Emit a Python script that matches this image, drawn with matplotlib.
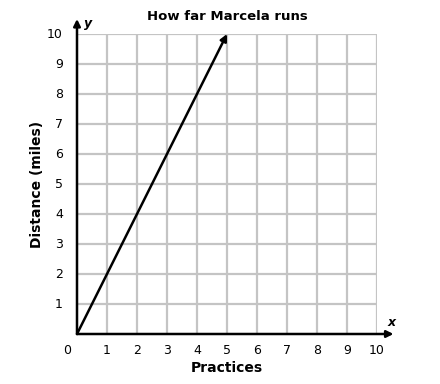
import matplotlib.pyplot as plt

# data
practices = [0, 5]
distance = [0, 10]
x_ticks = [1, 2, 3, 4, 5, 6, 7, 8, 9, 10]
y_ticks = [1, 2, 3, 4, 5, 6, 7, 8, 9, 10]

plt.rcParams['font.family'] = ['DejaVu Sans']

fig = plt.figure(figsize=(4.4, 3.84), dpi=100)
ax = fig.add_axes([77 / 440, 1 - 334 / 384, 300 / 440, 300 / 384])
ax.set_xlim(0, 10)
ax.set_ylim(0, 10)

# grid
for v in range(1, 11):
    ax.axvline(v, color='#c4c4c4', lw=1.6, zorder=1)
    ax.axhline(v, color='#c4c4c4', lw=1.6, zorder=1)

for s in ax.spines.values():
    s.set_visible(False)
ax.set_xticks([])
ax.set_yticks([])

# axes with arrows
arrow = dict(arrowstyle='-|>', color='black', lw=1.8, mutation_scale=10,
             shrinkA=0, shrinkB=0)
ax.annotate('', xy=(10.55, 0), xytext=(0, 0), arrowprops=arrow,
            annotation_clip=False, zorder=3)
ax.annotate('', xy=(0, 10.5), xytext=(0, 0), arrowprops=arrow,
            annotation_clip=False, zorder=3)

# the line
ax.annotate('', xy=(practices[1], distance[1]), xytext=(practices[0], distance[0]),
            arrowprops=arrow, annotation_clip=False, zorder=4)

# tick labels
for t in x_ticks:
    ax.text(t, -0.55, str(t), ha='center', va='center', fontsize=9)
ax.text(-0.33, -0.55, '0', ha='center', va='center', fontsize=9)
for t in y_ticks:
    ax.text(-0.47, t, str(t), ha='right', va='center', fontsize=9)

ax.text(10.35, 0.4, 'x', ha='left', va='center', fontsize=9,
        fontweight='bold', style='italic')
ax.text(0.25, 10.35, 'y', ha='left', va='center', fontsize=9,
        fontweight='bold', style='italic')

ax.text(5, -1.15, 'Practices', ha='center', va='center', fontsize=10,
        fontweight='bold')
ax.text(-1.33, 5, 'Distance (miles)', ha='center', va='center', fontsize=10,
        fontweight='bold', rotation=90)
ax.text(5, 10.57, 'How far Marcela runs', ha='center', va='center',
        fontsize=9.5, fontweight='bold')

fig.savefig('out.png', dpi=100)
